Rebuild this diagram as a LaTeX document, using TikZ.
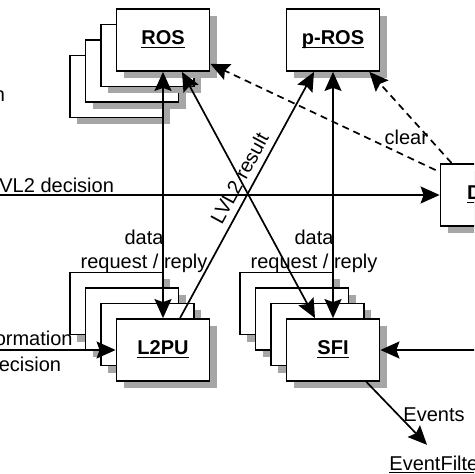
\documentclass[tikz,border=0pt]{standalone}
\usepackage{fontspec}
\setmainfont{Liberation Sans}
\usetikzlibrary{matrix}
\usetikzlibrary{positioning}
\usetikzlibrary{arrows.meta}
\usetikzlibrary{shadows}
\newcommand{\Ustr}[1]{\underline{\smash{#1}\vphantom{A}}}
\tikzset{
  Kasten/.style={draw,fill=white,line width=.9pt,inner sep=2pt,
    minimum width=46.5pt,minimum height=31pt,font=\bfseries,
    drop shadow={shadow xshift=3.5pt,shadow yshift=-3.5pt,fill=black!35,opacity=1}}, % Kasten mit Schatten
  Pfeil/.style={line width=.85pt}, % für Pfeile
  SPfeil/.style={Pfeil,->,dash pattern=on 3.5pt off 2.5pt}, % für gestrichelte Pfeile
  Rand/.style={inner sep=0pt} % Texte am Bildrand
}
\begin{document}
\begin{tikzpicture}[
>={Stealth[length=9.5pt,width=8.5pt,inset=1.5pt]} % Voreinstellung für Pfeilspitzen
]
\useasboundingbox (0,0) rectangle (237pt,-237pt);
\clip (0,0) rectangle (237pt,-237pt);

\matrix (S) [
  matrix of nodes, nodes in empty cells,
  inner sep=0pt, outer sep=0pt,
  column sep=85pt, row sep=77.5pt,
  nodes={minimum width=0pt,minimum height=0pt,inner sep=0pt,outer sep=0pt},
  anchor=north west
  ] at (81.5pt,-20pt)
{
  & &[-8pt] \\
  & &[-8pt] \\
  & &[-8pt] \\
};

%Stapel (ROS nach unten, L2PU und SFI nach oben versetzt)
\foreach \k in {3,2,1}{%
\node[Kasten] (ROS\k) at ([xshift=-\k*7.75pt, yshift=-\k*7.75pt]S-1-1){};
\node[Kasten] (L2PU\k) at ([xshift=-\k*7.75pt, yshift=\k*7.75pt]S-3-1){};
\node[Kasten] (SFI\k) at ([xshift=-\k*7.75pt, yshift=\k*7.75pt]S-3-2){};
};

%Kästen
\node[Kasten] (ROS) at (S-1-1){\Ustr{ROS}};
\node[Kasten] (pROS) at (S-1-2){\Ustr{p-ROS}};
\node[Kasten, text width=20pt, align=left] (D) at (S-2-3){\Ustr{D}};
\node[Kasten] (L2PU) at (S-3-1){\Ustr{L2PU}};
\node[Kasten] (SFI) at (S-3-2){\Ustr{SFI}};

%Texte am Rand
\coordinate (Links) at (-5pt,0);
\coordinate (Rechts) at (245pt,0);
\node[Rand, anchor=base east] (Ln) at (2.75pt,-51pt){n};
\node[Rand, anchor=base west] (LVLd) at (-.5pt,-96.5pt){VL2 decision};
\node[Rand, anchor=base east] (Lorm) at (36.5pt,-172.75pt){ormation};
\node[Rand, anchor=base east] (Ldec) at (30.75pt,-185.6pt){ecision};
\node[Rand, anchor=base west] (EF) at (194.5pt,-235pt){\Ustr{EventFilte}};

%Datenpfeile
\draw[Pfeil, <->] (ROS.south) -- node[pos=.73, xshift=-9.5pt, align=center]{data\\request / reply} (ROS.south |- L2PU.north);
\draw[Pfeil, <->] (pROS.south) -- node[pos=.73, xshift=-9.5pt, align=center]{data\\request / reply} (pROS.south |- SFI.north);
\draw[Pfeil, <->] ([xshift=9.5pt]ROS.south) -- ([xshift=-9pt]SFI.north);
\draw[Pfeil, ->] ([xshift=8.5pt]L2PU.north) -- node[pos=.54, sloped, above]{LVL2 result} ([xshift=-9.5pt]pROS.south);

%gestrichelte Pfeile
\draw[SPfeil] ([xshift=-2pt, yshift=-3.5pt]D.north west) -- node[pos=.13, above=2pt]{clear} ([yshift=4pt]ROS.south east);
\draw[SPfeil] ([xshift=6pt]D.north west) -- ([xshift=-5.5pt]pROS.south east);

%Eingänge
\draw[Pfeil, ->] (Links |- D.west) -- (D.west);
\draw[Pfeil, ->] (Links |- L2PU.west) -- (L2PU.west);
\draw[Pfeil, ->] (Rechts |- SFI.east) -- (SFI.east);

%Events
\draw[Pfeil, ->] ([xshift=-7pt]SFI.south east) -- node[pos=.52, right=-1pt]{Events} ([xshift=19pt, yshift=5.5pt]EF.north west);

\end{tikzpicture}
\end{document}
